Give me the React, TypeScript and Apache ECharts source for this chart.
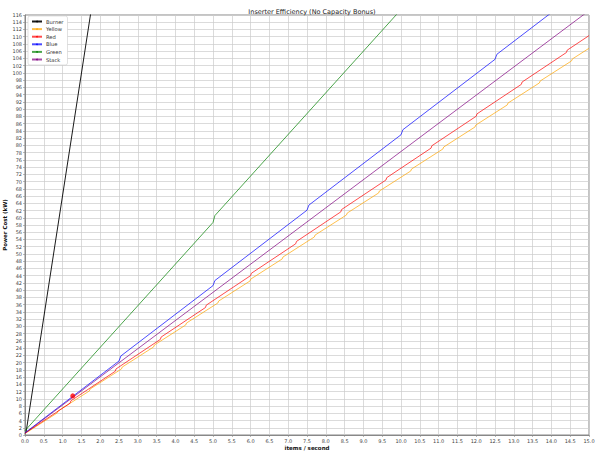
import React, { useEffect, useRef } from 'react';
import * as echarts from 'echarts';

// items / second -> power cost (kW)
const burner: [number, number][] = [[0, 0.5], [0.03, 0.9], [1.74, 116], [2.0, 133.4]];

const yellow: [number, number][] = [
  [0, 0.4], [0.855, 6.08], [0.875, 6.61], [1.71, 12.15], [1.73, 12.68],
  [2.565, 18.23], [2.585, 18.76], [3.42, 24.31], [3.44, 24.84],
  [4.275, 30.39], [4.295, 30.92], [5.13, 36.46], [5.15, 36.99],
  [5.985, 42.54], [6.005, 43.07], [6.84, 48.62], [6.86, 49.15],
  [7.695, 54.69], [7.715, 55.22], [8.55, 60.77], [8.57, 61.3],
  [9.405, 66.85], [9.425, 67.38], [10.26, 72.92], [10.28, 73.45],
  [11.115, 79.0], [11.135, 79.53], [11.97, 85.08], [11.99, 85.61],
  [12.825, 91.15], [12.845, 91.68], [13.68, 97.23], [13.7, 97.76],
  [14.535, 103.31], [14.555, 103.84], [15, 106.8],
];

const red: [number, number][] = [
  [0, 0.5], [1.2, 8.8], [1.22, 9.44], [2.4, 17.6], [2.42, 18.24],
  [3.6, 26.41], [3.62, 27.05], [4.8, 35.21], [4.82, 35.85],
  [6.0, 44.02], [6.02, 44.66], [7.2, 52.82], [7.22, 53.46],
  [8.4, 61.63], [8.42, 62.27], [9.6, 70.43], [9.62, 71.07],
  [10.8, 79.24], [10.82, 79.88], [12.0, 88.04], [12.02, 88.68],
  [13.2, 96.84], [13.22, 97.48], [14.4, 105.65], [14.42, 106.29],
  [15, 110.3],
];

const blue: [number, number][] = [
  [0, 0.6], [2.5, 20.43], [2.55, 21.83], [5.0, 41.26], [5.05, 42.66],
  [7.5, 62.09], [7.55, 63.49], [10.0, 82.92], [10.05, 84.32],
  [12.5, 103.75], [12.55, 105.15], [15, 124.58],
];

const green: [number, number][] = [[0, 1.2], [5.0, 58.7], [5.05, 60.6], [15, 175]];

const stack: [number, number][] = [[0, 0.5], [15, 117.2]];

const redMarker: [number, number][] = [[1.27, 10.8]];

const seriesNames = ['Burner', 'Yellow', 'Red', 'Blue', 'Green', 'Stack'];
const seriesColors = ['#000000', '#ffa500', '#ff0000', '#0000ff', '#008000', '#800080'];
const seriesData = [burner, yellow, red, blue, green, stack];

const FONT = 'DejaVu Sans';

export default function App() {
  const chartRef = useRef<HTMLDivElement>(null);

  useEffect(() => {
    document.body.style.margin = '0';
    if (!chartRef.current) return;
    const chart = echarts.init(chartRef.current, null, { renderer: 'svg' });

    const lines = seriesNames.map((name, i) => ({
      type: 'line',
      name,
      data: seriesData[i],
      symbol: 'none',
      clip: true,
      color: seriesColors[i],
      lineStyle: { width: 1, color: seriesColors[i], opacity: i === 0 ? 0.9 : 0.7 },
    }));

    chart.setOption({
      animation: false,
      textStyle: { fontFamily: FONT },
      title: {
        text: 'Inserter Efficiency (No Capacity Bonus)',
        left: 307,
        textAlign: 'center',
        top: 3,
        textStyle: { fontSize: 6.5, fontWeight: 'normal', color: '#222', fontFamily: FONT },
      },
      legend: {
        data: seriesNames,
        orient: 'vertical',
        left: 28,
        top: 16,
        itemWidth: 10,
        itemHeight: 2,
        itemGap: 2.6,
        padding: [3, 4, 3, 3],
        backgroundColor: '#ffffff',
        borderColor: '#cccccc',
        borderWidth: 0.6,
        borderRadius: 2,
        textStyle: { fontSize: 5.2, color: '#333', fontFamily: FONT, padding: [0, 0, 0, -1] },
      },
      grid: {
        left: 25,
        right: 11,
        top: 15,
        bottom: 20,
        outerBoundsMode: 'none',
        containLabel: false,
        show: true,
        borderColor: '#888',
        borderWidth: 1,
        backgroundColor: 'transparent',
      },
      xAxis: {
        type: 'value',
        min: 0,
        max: 15,
        interval: 0.5,
        name: 'items / second',
        nameLocation: 'middle',
        nameGap: 10,
        nameMoveOverlap: false,
        nameTextStyle: { fontSize: 5.5, fontWeight: 'bold', color: '#111', fontFamily: FONT },
        axisLine: { show: true, lineStyle: { color: '#888', width: 1 } },
        axisTick: { show: true, length: 2, lineStyle: { color: '#888', width: 0.6 } },
        axisLabel: {
          fontSize: 5,
          color: '#444',
          margin: 3,
          formatter: (v: number) => v.toFixed(1),
        },
        splitLine: { show: true, lineStyle: { color: '#cccccc', width: 0.7 } },
      },
      yAxis: {
        type: 'value',
        min: 0,
        max: 116,
        interval: 2,
        name: 'Power Cost (kW)',
        nameLocation: 'middle',
        nameGap: 17,
        nameRotate: 90,
        nameMoveOverlap: false,
        nameTextStyle: { fontSize: 5.5, fontWeight: 'bold', color: '#111', fontFamily: FONT },
        axisLine: { show: true, lineStyle: { color: '#888', width: 1 } },
        axisTick: { show: true, length: 2, lineStyle: { color: '#888', width: 0.6 } },
        axisLabel: { fontSize: 5, color: '#444', margin: 3 },
        splitLine: { show: true, lineStyle: { color: '#cccccc', width: 0.7 } },
      },
      series: [
        ...lines,
        {
          type: 'scatter',
          name: 'RedMarker',
          data: redMarker,
          symbol: 'circle',
          symbolSize: 5,
          z: 5,
          itemStyle: { color: '#ff0000' },
        },
      ],
    });

    return () => {
      chart.dispose();
    };
  }, []);

  return <div ref={chartRef} style={{ width: 600, height: 455 }} />;
}
